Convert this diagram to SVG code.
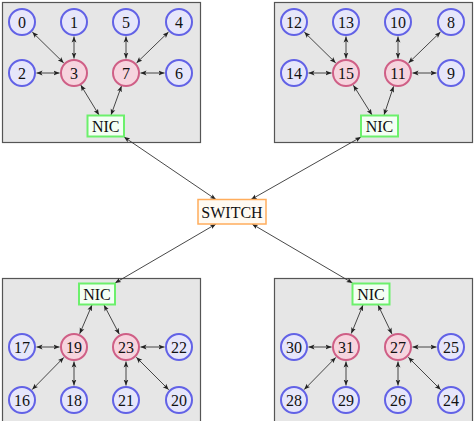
<svg xmlns="http://www.w3.org/2000/svg" width="474" height="421" viewBox="0 0 474 421">
<defs>
<marker id="ah" markerUnits="userSpaceOnUse" markerWidth="7" markerHeight="6" refX="6" refY="3" orient="auto-start-reverse">
<path d="M0,0.6 L6,3 L0,5.4 L1.4,3 z" fill="#222"/>
</marker>
<style>
.box{fill:#e6e6e6;stroke:#555;stroke-width:1.2}
.b circle{fill:#e6e6fa;stroke:#6262e6;stroke-width:2}
.p circle{fill:#f6d4de;stroke:#cf5f86;stroke-width:2}
.nic rect{fill:#f4fff4;stroke:#6cf06c;stroke-width:2}
.sw rect{fill:#fffaf2;stroke:#ffad5c;stroke-width:1.5}
text{font-family:"Liberation Serif","Times New Roman",serif;font-size:16px;fill:#111;text-anchor:middle;dominant-baseline:central}
#edges line{stroke:#333;stroke-width:0.9;marker-start:url(#ah);marker-end:url(#ah)}
</style>
</defs>
<rect class="box" x="2.5" y="2.5" width="198" height="140"/>
<rect class="box" x="274.5" y="2.5" width="198" height="140"/>
<rect class="box" x="2.5" y="278.5" width="198" height="150"/>
<rect class="box" x="274.5" y="278.5" width="198" height="150"/>
<g id="edges">
<line x1="124" y1="137" x2="216" y2="199.5"/>
<line x1="361" y1="137" x2="251" y2="199.5"/>
<line x1="115" y1="283" x2="216" y2="224"/>
<line x1="352.5" y1="283" x2="252" y2="224"/>
<line x1="32.3" y1="32.1" x2="63.7" y2="62.9"/>
<line x1="74" y1="36.5" x2="74" y2="58.5"/>
<line x1="36.5" y1="73" x2="59.5" y2="73"/>
<line x1="126" y1="36.5" x2="126" y2="58.5"/>
<line x1="168.5" y1="32" x2="136.5" y2="63"/>
<line x1="164.5" y1="73" x2="140.5" y2="73"/>
<line x1="80.7" y1="85" x2="99" y2="115"/>
<line x1="121.5" y1="86" x2="111" y2="115"/>
<line x1="304.3" y1="32.1" x2="335.7" y2="62.9"/>
<line x1="346" y1="36.5" x2="346" y2="58.5"/>
<line x1="308.5" y1="73" x2="331.5" y2="73"/>
<line x1="398" y1="36.5" x2="398" y2="58.5"/>
<line x1="440.5" y1="32" x2="408.5" y2="63"/>
<line x1="436.5" y1="73" x2="412.5" y2="73"/>
<line x1="353.4" y1="85.3" x2="372" y2="115"/>
<line x1="393.6" y1="86.3" x2="384" y2="115"/>
<line x1="92" y1="305" x2="79.7" y2="333.7"/>
<line x1="104" y1="305" x2="119.3" y2="334.2"/>
<line x1="36.5" y1="347" x2="59.5" y2="347"/>
<line x1="140.5" y1="347" x2="164.5" y2="347"/>
<line x1="63.8" y1="357.4" x2="32.2" y2="389.6"/>
<line x1="74" y1="361.5" x2="74" y2="385.5"/>
<line x1="126" y1="361.5" x2="126" y2="385.5"/>
<line x1="136.3" y1="357.3" x2="168.7" y2="389.7"/>
<line x1="363" y1="305" x2="351.3" y2="333.5"/>
<line x1="378" y1="305" x2="391.9" y2="333.9"/>
<line x1="308.5" y1="347" x2="331.5" y2="347"/>
<line x1="412.5" y1="347" x2="436.5" y2="347"/>
<line x1="335.8" y1="357.4" x2="304.2" y2="389.6"/>
<line x1="346" y1="361.5" x2="346" y2="385.5"/>
<line x1="398" y1="361.5" x2="398" y2="385.5"/>
<line x1="408.3" y1="357.3" x2="440.7" y2="389.7"/>
</g>
<g id="switch" class="sw"><rect x="198" y="199.5" width="68" height="24.5"/><text x="232" y="212">SWITCH</text></g>
<g id="nic0" class="nic"><rect x="87.5" y="115.5" width="36.5" height="21"/><text x="105.7" y="126.5">NIC</text></g>
<g id="nic1" class="nic"><rect x="361" y="115.5" width="37" height="21"/><text x="379.5" y="126.5">NIC</text></g>
<g id="nic2" class="nic"><rect x="79" y="283.5" width="36" height="21"/><text x="97" y="294.5">NIC</text></g>
<g id="nic3" class="nic"><rect x="352.5" y="283.5" width="37" height="21"/><text x="371" y="294.5">NIC</text></g>
<g id="n0" class="b"><circle cx="22" cy="22" r="13"/><text x="22" y="22">0</text></g>
<g id="n1" class="b"><circle cx="74" cy="22" r="13"/><text x="74" y="22">1</text></g>
<g id="n5" class="b"><circle cx="126" cy="22" r="13"/><text x="126" y="22">5</text></g>
<g id="n4" class="b"><circle cx="179" cy="22" r="13"/><text x="179" y="22">4</text></g>
<g id="n2" class="b"><circle cx="22" cy="73" r="13"/><text x="22" y="73">2</text></g>
<g id="n3" class="p"><circle cx="74" cy="73" r="13"/><text x="74" y="73">3</text></g>
<g id="n7" class="p"><circle cx="126" cy="73" r="13"/><text x="126" y="73">7</text></g>
<g id="n6" class="b"><circle cx="179" cy="73" r="13"/><text x="179" y="73">6</text></g>
<g id="n12" class="b"><circle cx="294" cy="22" r="13"/><text x="294" y="22">12</text></g>
<g id="n13" class="b"><circle cx="346" cy="22" r="13"/><text x="346" y="22">13</text></g>
<g id="n10" class="b"><circle cx="398" cy="22" r="13"/><text x="398" y="22">10</text></g>
<g id="n8" class="b"><circle cx="451" cy="22" r="13"/><text x="451" y="22">8</text></g>
<g id="n14" class="b"><circle cx="294" cy="73" r="13"/><text x="294" y="73">14</text></g>
<g id="n15" class="p"><circle cx="346" cy="73" r="13"/><text x="346" y="73">15</text></g>
<g id="n11" class="p"><circle cx="398" cy="73" r="13"/><text x="398" y="73">11</text></g>
<g id="n9" class="b"><circle cx="451" cy="73" r="13"/><text x="451" y="73">9</text></g>
<g id="n17" class="b"><circle cx="22" cy="347" r="13"/><text x="22" y="347">17</text></g>
<g id="n19" class="p"><circle cx="74" cy="347" r="13"/><text x="74" y="347">19</text></g>
<g id="n23" class="p"><circle cx="126" cy="347" r="13"/><text x="126" y="347">23</text></g>
<g id="n22" class="b"><circle cx="179" cy="347" r="13"/><text x="179" y="347">22</text></g>
<g id="n16" class="b"><circle cx="22" cy="400" r="13"/><text x="22" y="400">16</text></g>
<g id="n18" class="b"><circle cx="74" cy="400" r="13"/><text x="74" y="400">18</text></g>
<g id="n21" class="b"><circle cx="126" cy="400" r="13"/><text x="126" y="400">21</text></g>
<g id="n20" class="b"><circle cx="179" cy="400" r="13"/><text x="179" y="400">20</text></g>
<g id="n30" class="b"><circle cx="294" cy="347" r="13"/><text x="294" y="347">30</text></g>
<g id="n31" class="p"><circle cx="346" cy="347" r="13"/><text x="346" y="347">31</text></g>
<g id="n27" class="p"><circle cx="398" cy="347" r="13"/><text x="398" y="347">27</text></g>
<g id="n25" class="b"><circle cx="451" cy="347" r="13"/><text x="451" y="347">25</text></g>
<g id="n28" class="b"><circle cx="294" cy="400" r="13"/><text x="294" y="400">28</text></g>
<g id="n29" class="b"><circle cx="346" cy="400" r="13"/><text x="346" y="400">29</text></g>
<g id="n26" class="b"><circle cx="398" cy="400" r="13"/><text x="398" y="400">26</text></g>
<g id="n24" class="b"><circle cx="451" cy="400" r="13"/><text x="451" y="400">24</text></g>
</svg>
